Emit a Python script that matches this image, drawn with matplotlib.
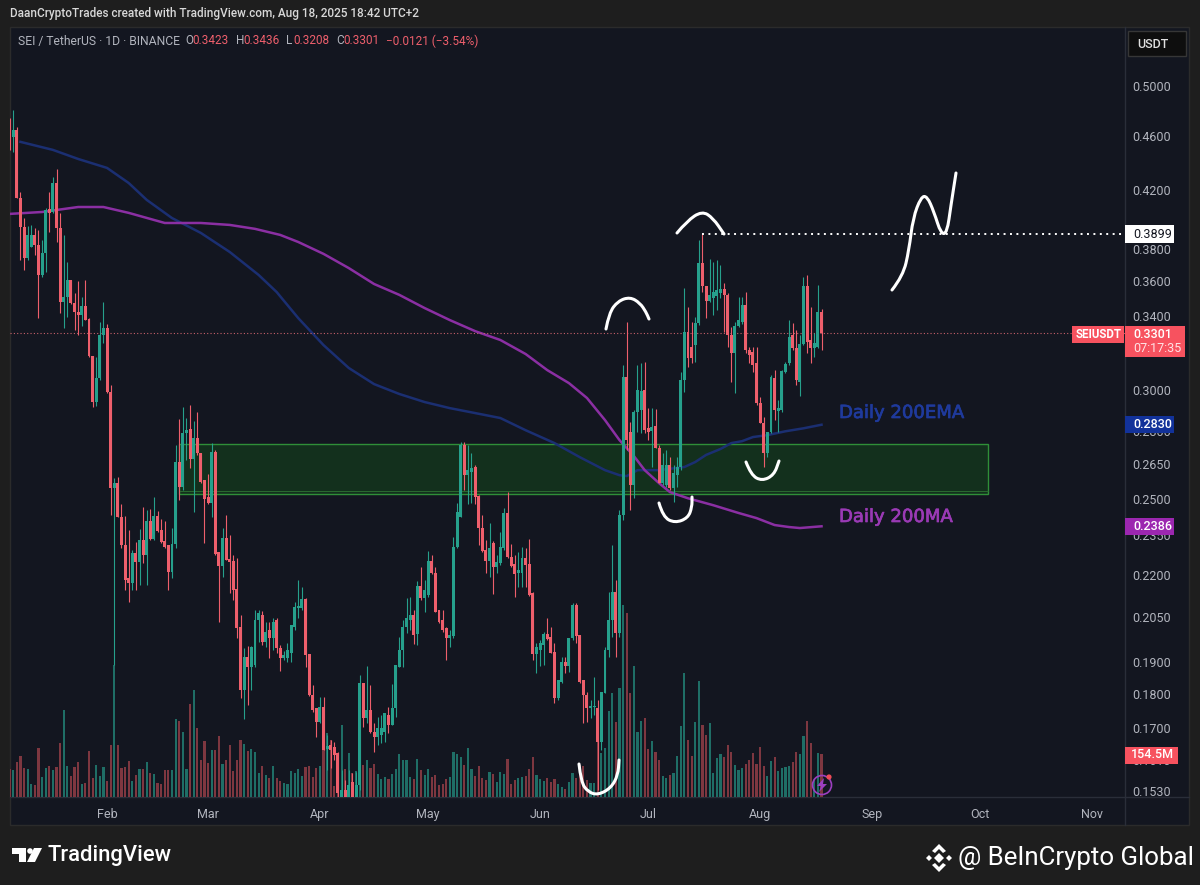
"""SEI/USDT daily candles with 200 MA / 200 EMA, TradingView dark look."""
import matplotlib

matplotlib.use("Agg")
import matplotlib.dates as mdates
import matplotlib.patheffects as pe
import matplotlib.pyplot as plt
import numpy as np
import pandas as pd
from matplotlib.patches import Circle, PathPatch, Polygon, Rectangle
from matplotlib.path import Path
from matplotlib.ticker import FixedFormatter, FixedLocator, NullLocator

plt.rcParams["font.family"] = ["Roboto", "DejaVu Sans"]

START = "2025-01-05"

opens = [
    .4723, .4590, .4644, .4143, .3946, .3745, .3815, .3893, .3828, .3640,
    .3777, .4067, .4046, .4249, .3939, .3478, .3508, .3609, .3472, .3420,
    .3403, .3455, .3380, .3176, .2940, .3060, .3290, .3329, .2990, .2544,
    .2565, .2423, .2311, .2187, .2169, .2281, .2247, .2331, .2273, .2407,
    .2335, .2427, .2371, .2327, .2311, .2210, .2315, .2658, .2548, .2790,
    .2809, .2672, .2767, .2698, .2578, .2505, .2481, .2703, .2285, .2232,
    .2339, .2258, .2250, .2146, .2014, .1812, .1916, .1884, .1890, .2038,
    .2055, .1964, .2004, .1978, .2038, .1945, .1912, .1912, .1928, .2014,
    .2080, .2080, .2111, .1925, .1797, .1758, .1717, .1761, .1641, .1652,
    .1646, .1630, .1493, .1532, .1493, .1553, .1506, .1545, .1834, .1729,
    .1752, .1688, .1674, .1680, .1688, .1738, .1708, .1758, .1884, .1938,
    .2014, .2038, .2055, .1991, .2158, .2115, .2125, .2250, .2206, .2073,
    .2038, .2011, .1978, .1984, .2304, .2423, .2735, .2600, .2613, .2636,
    .2510, .2379, .2292, .2250, .2319, .2228, .2243, .2300, .2440, .2266,
    .2239, .2206, .2206, .2262, .2239, .2132, .1925, .1938, .1954, .1991,
    .1981, .1932, .1788, .1837, .1900, .1887, .1978, .2090, .1987, .1843,
    .1797, .1758, .1761, .1758, .1660, .1803, .1938, .2038, .2136, .1994,
    .2431, .3065, .2795, .2556, .2890, .2900, .3000, .2813, .2799, .2823,
    .2721, .2565, .2556, .2645, .2544, .2600, .2636, .3050, .3307, .3224,
    .3235, .3357, .3714, .3573, .3484, .3502, .3514, .3531, .3555, .3519,
    .3290, .3192, .3340, .3363, .3461, .3208, .3197, .3139, .2935, .2838,
    .2698, .2795, .3060, .2895, .2900, .3092, .3139, .3290, .3219, .3040,
    .3241, .3573, .3263, .3219, .3224, .3423,
]
highs = [
    .4739, .4803, .4668, .4185, .4005, .3952, .3959, .3939, .3926, .3860,
    .4074, .4185, .4292, .4349, .4040, .3893, .3720, .3609, .3531, .3603,
    .3508, .3609, .3385, .3176, .3171, .3363, .3478, .3351, .3025, .2587,
    .2591, .2477, .2427, .2371, .2292, .2323, .2375, .2464, .2452, .2456,
    .2505, .2448, .2415, .2407, .2311, .2379, .2735, .2857, .2915, .2862,
    .2925, .2847, .2890, .2698, .2578, .2604, .2744, .2712, .2285, .2379,
    .2431, .2351, .2273, .2262, .2055, .1945, .1951, .1951, .2073, .2073,
    .2069, .2031, .2031, .2045, .2045, .1954, .1935, .1961, .2021, .2101,
    .2180, .2154, .2115, .1925, .1827, .1758, .1791, .1791, .1680, .1666,
    .1660, .1632, .1584, .1558, .1584, .1576, .1579, .1858, .1834, .1887,
    .1827, .1714, .1732, .1738, .1743, .1761, .1830, .1890, .1981, .2038,
    .2115, .2118, .2073, .2176, .2228, .2180, .2289, .2273, .2228, .2073,
    .2073, .2014, .2004, .2343, .2481, .2749, .2749, .2735, .2698, .2645,
    .2514, .2431, .2331, .2399, .2327, .2273, .2363, .2460, .2527, .2315,
    .2273, .2285, .2304, .2300, .2335, .2136, .1961, .1971, .1997, .2045,
    .2014, .1961, .1843, .1916, .1916, .1978, .2097, .2097, .1987, .1843,
    .1806, .1782, .1852, .1782, .1806, .1948, .2136, .2311, .2180, .2452,
    .3128, .3363, .2842, .2900, .3128, .3139, .3144, .2910, .2910, .2905,
    .2735, .2698, .2712, .2680, .2645, .2680, .3092, .3561, .3449, .3363,
    .3391, .3860, .3899, .3573, .3739, .3720, .3733, .3702, .3591, .3531,
    .3335, .3363, .3508, .3508, .3537, .3224, .3224, .3224, .2965, .2866,
    .2795, .3076, .3102, .2950, .3102, .3144, .3374, .3357, .3318, .3290,
    .3627, .3640, .3449, .3301, .3579, .3436,
]
lows = [
    .4491, .4476, .4143, .3733, .3670, .3733, .3815, .3764, .3385, .3627,
    .3658, .3913, .4040, .3847, .3414, .3329, .3391, .3466, .3318, .3290,
    .3340, .3374, .3171, .2915, .2920, .3050, .3247, .2985, .2431, .1890,
    .2423, .2300, .2143, .2101, .2143, .2143, .2162, .2243, .2162, .2331,
    .2331, .2363, .2319, .2300, .2143, .2187, .2300, .2493, .2535, .2667,
    .2631, .2444, .2689, .2565, .2319, .2477, .2423, .2273, .2031, .2191,
    .2254, .2132, .2108, .1978, .1788, .1726, .1767, .1812, .1884, .1964,
    .1954, .1948, .1912, .1938, .1928, .1871, .1906, .1900, .1900, .2004,
    .2045, .2073, .1884, .1794, .1746, .1674, .1714, .1638, .1584, .1589,
    .1611, .1512, .1408, .1468, .1481, .1506, .1493, .1532, .1703, .1714,
    .1686, .1632, .1652, .1658, .1660, .1686, .1708, .1732, .1884, .1884,
    .1994, .2004, .1958, .1954, .2108, .2066, .2118, .2202, .2066, .2028,
    .1997, .1906, .1948, .1978, .2300, .2423, .2535, .2477, .2481, .2477,
    .2311, .2285, .2206, .2191, .2129, .2206, .2236, .2292, .2262, .2228,
    .2118, .2154, .2154, .2154, .2122, .1906, .1865, .1887, .1890, .1971,
    .1928, .1773, .1782, .1834, .1865, .1868, .1971, .1961, .1834, .1714,
    .1717, .1729, .1738, .1532, .1638, .1803, .1916, .1981, .1916, .1981,
    .2411, .2712, .2452, .2501, .2795, .2790, .2790, .2758, .2636, .2721,
    .2565, .2556, .2548, .2535, .2485, .2548, .2622, .2990, .3118, .3139,
    .3144, .3346, .3537, .3385, .3478, .3403, .3431, .3502, .3307, .3224,
    .3040, .2985, .3335, .3351, .3192, .3139, .3092, .2925, .2838, .2636,
    .2680, .2790, .2852, .2795, .2890, .3087, .3128, .3208, .3025, .2970,
    .3235, .3192, .3139, .3171, .3219, .3208,
]
closes = [
    .4590, .4644, .4143, .3946, .3745, .3893, .3893, .3828, .3640, .3777,
    .4060, .4040, .4249, .3939, .3478, .3508, .3609, .3472, .3420, .3403,
    .3455, .3374, .3176, .2940, .3060, .3290, .3329, .2990, .2544, .2565,
    .2423, .2311, .2180, .2169, .2281, .2247, .2331, .2273, .2407, .2335,
    .2427, .2367, .2323, .2304, .2210, .2315, .2658, .2548, .2790, .2804,
    .2672, .2767, .2698, .2569, .2497, .2481, .2703, .2277, .2232, .2339,
    .2254, .2247, .2143, .2011, .1812, .1916, .1884, .1948, .2038, .2062,
    .1964, .1997, .1978, .2031, .1945, .1912, .1922, .1938, .2021, .2083,
    .2087, .2111, .1922, .1797, .1752, .1717, .1761, .1638, .1649, .1638,
    .1624, .1524, .1532, .1493, .1545, .1514, .1545, .1834, .1729, .1752,
    .1688, .1674, .1700, .1700, .1743, .1708, .1758, .1890, .1938, .2014,
    .2045, .2055, .1987, .2158, .2115, .2143, .2250, .2206, .2066, .2031,
    .2004, .1978, .1987, .2304, .2444, .2735, .2600, .2622, .2631, .2505,
    .2379, .2289, .2250, .2300, .2228, .2247, .2304, .2440, .2266, .2232,
    .2202, .2217, .2262, .2236, .2125, .1925, .1948, .1961, .1991, .1974,
    .1928, .1788, .1843, .1900, .1887, .1978, .2090, .1984, .1837, .1797,
    .1758, .1764, .1764, .1660, .1806, .1938, .2038, .2136, .1994, .2431,
    .3065, .2758, .2556, .2890, .3000, .2995, .2804, .2795, .2818, .2721,
    .2565, .2645, .2645, .2544, .2609, .2636, .3050, .3307, .3165, .3165,
    .3357, .3714, .3573, .3484, .3519, .3537, .3549, .3555, .3519, .3290,
    .3192, .3340, .3374, .3461, .3208, .3181, .3128, .2935, .2838, .2698,
    .2795, .3065, .2900, .2910, .3097, .3134, .3279, .3219, .3050, .3241,
    .3573, .3252, .3219, .3246, .3420, .3301,
]
# volume in millions of coins
volumes = [
    100, 98, 126, 149, 104, 101, 48, 44, 176, 72,
    106, 110, 98, 108, 194, 312, 110, 77, 108, 126,
    48, 50, 164, 68, 115, 77, 107, 56, 186, 475,
    188, 104, 107, 128, 56, 79, 101, 101, 125, 86,
    84, 50, 48, 98, 98, 98, 282, 272, 233, 101,
    335, 385, 248, 132, 200, 122, 168, 168, 221, 120,
    134, 188, 92, 134, 204, 192, 167, 174, 161, 86,
    110, 80, 68, 110, 68, 56, 50, 48, 92, 86,
    101, 77, 108, 113, 72, 106, 110, 170, 230, 206,
    41, 158, 258, 101, 158, 86, 92, 180, 116, 132,
    104, 120, 84, 66, 72, 66, 84, 102, 156, 134,
    134, 72, 66, 138, 96, 78, 102, 72, 78, 42,
    48, 66, 72, 162, 156, 144, 114, 176, 102, 76,
    112, 68, 60, 90, 84, 54, 90, 84, 136, 48,
    60, 68, 72, 76, 102, 144, 78, 66, 56, 68,
    54, 66, 48, 36, 30, 54, 86, 68, 116, 110,
    62, 50, 50, 206, 158, 176, 308, 374, 269, 392,
    692, 662, 374, 470, 233, 272, 284, 173, 203, 161,
    134, 77, 68, 80, 86, 146, 257, 446, 204, 146,
    269, 419, 260, 224, 266, 86, 140, 156, 144, 186,
    161, 116, 98, 104, 120, 134, 158, 120, 180, 110,
    77, 128, 144, 95, 104, 107, 110, 125, 163, 156,
    221, 274, 194, 60, 158, 154.5,
]

# moving averages, read every week or so (days since START)
ema_days = [3, 12, 19, 27, 33, 38, 45, 53, 61, 69, 74, 80, 87, 94, 101, 108, 115,
            122, 129, 136, 143, 151, 158, 165, 169, 171, 174, 180, 187, 190, 193,
            197, 200, 203, 206, 210, 215, 220, 225]
ema_vals = [.4552, .4491, .4423, .4357, .4248, .4129, .4005, .3906, .3783, .3640,
            .3537, .3385, .3235, .3113, .3030, .2980, .2940, .2910, .2886, .2862,
            .2804, .2744, .2680, .2622, .2600, .2596, .2622, .2622, .2636, .2658,
            .2690, .2717, .2744, .2753, .2772, .2781, .2799, .2813, .2830]
ma_days = [0, 9, 19, 26, 33, 43, 53, 61, 68, 75, 80, 87, 94, 101, 108, 115, 122,
           129, 136, 143, 149, 155, 160, 165, 169, 173, 176, 180, 183, 188, 195,
           202, 207, 212, 216, 219, 225]
ma_vals = [.4033, .4046, .4080, .4080, .4040, .3972, .3972, .3959, .3933, .3893,
           .3847, .3771, .3682, .3585, .3520, .3443, .3374, .3312, .3263, .3187,
           .3102, .3035, .2960, .2852, .2758, .2685, .2622, .2565, .2527, .2501,
           .2472, .2440, .2419, .2391, .2383, .2379, .2386]

price_ticks = [.5, .46, .42, .38, .36, .34, .30, .28, .265, .25, .235, .22, .205,
               .19, .18, .17, .161, .153]
zone_days = (47, 271)
zone_prices = (.2518, .2740)
last_close = .3301
resistance = .3899
ema_last = .2830
ma_last = .2386
vol_last = 154.5

# hand-drawn marks on the original screenshot, in image pixels
strokes = [
    [(606, 329), (609, 313), (618, 301), (630, 297), (640, 303), (646, 312), (649, 319)],
    [(677, 233), (687, 221), (702, 211), (713, 218), (724, 234)],
    [(659, 503), (663, 517), (675, 523), (688, 518), (692, 507), (692, 497)],
    [(746, 462), (751, 475), (762, 481), (774, 475), (779, 461)],
    [(579, 764), (581, 782), (588, 792), (598, 795), (611, 788), (618, 775), (619, 760)],
    [(892, 290), (903, 276), (909, 250), (913, 218), (921, 197), (927, 196), (934, 212),
     (941, 234), (947, 233), (951, 205), (956, 173)],
]

OUTER = "#1e1e1e"
PANEL = "#131620"
GRID = "#2a2e39"
UP = "#26a08c"
DOWN = "#ee5f6c"
VOL_UP = "#1f6e66"
VOL_DOWN = "#7e3740"
TEXT = "#b2b5be"

W, H = 1200, 885
fig = plt.figure(figsize=(W / 100, H / 100), dpi=100, facecolor=OUTER)


def px_axes(left, top, right, bottom, **kw):
    return fig.add_axes([left / W, 1 - bottom / H, (right - left) / W, (bottom - top) / H], **kw)


bg = px_axes(0, 0, W, H, zorder=0)
bg.set_xlim(0, W)
bg.set_ylim(H, 0)
bg.axis("off")
bg.add_patch(Rectangle((10, 27), 1179, 798, fc=PANEL, ec="#2b2b2b", lw=1))
bg.plot([10, 1189], [797, 797], color=GRID, lw=1)
bg.plot([1125, 1125], [27, 825], color=GRID, lw=1)

dates = pd.date_range(START, periods=len(closes))
x = mdates.date2num(dates)
d0 = x[0]
xlim = (d0 + 0.11, d0 + 309.1)

# volume underneath
axv = px_axes(10, 27, 1125, 797, zorder=1)
axv.patch.set_visible(False)
vol_colors = [VOL_UP if c >= o else VOL_DOWN for o, c in zip(opens, closes)]
axv.bar(x, volumes, width=0.6, color=vol_colors, linewidth=0)
axv.set_xlim(*xlim)
axv.set_ylim(0, 770 * 3.6)
axv.axis("off")

# price
ax = px_axes(10, 27, 1125, 797, zorder=2)
ax.patch.set_visible(False)
ax.set_yscale("log")
ax.set_xlim(*xlim)
ax.set_ylim(.1514, .5521)

ax.add_patch(Rectangle((d0 + zone_days[0], zone_prices[0]), zone_days[1] - zone_days[0],
                       zone_prices[1] - zone_prices[0], fc="#13301d", ec="#2f8f38", lw=1, zorder=1))
ax.hlines(.2533, d0 + zone_days[0], d0 + zone_days[1], color="#2a6b30", lw=0.7, zorder=1)

ax.plot(d0 + np.array(ema_days), ema_vals, color="#1b2f72", lw=1.8, zorder=2)
ax.plot(d0 + np.array(ma_days), ma_vals, color="#8b2fa3", lw=1.8, zorder=2)
ax.axhline(last_close, color="#c8616b", lw=0.8, ls=(0, (1, 2)), zorder=2)

colors = [UP if c >= o else DOWN for o, c in zip(opens, closes)]
ax.vlines(x, lows, highs, colors=colors, lw=0.8, zorder=3)
bottoms = np.minimum(opens, closes)
tops = np.maximum(opens, closes)
ax.bar(x, tops - bottoms, bottom=bottoms, width=0.82, color=colors, linewidth=0, zorder=4)

ax.hlines(resistance, d0 + 192, xlim[1], color="white", lw=1.4, ls=(0, (1, 2.3)), zorder=5)

ax.xaxis.set_major_locator(mdates.MonthLocator())
ax.xaxis.set_major_formatter(mdates.DateFormatter("%b"))
ax.yaxis.tick_right()
ax.yaxis.set_major_locator(FixedLocator(price_ticks))
ax.yaxis.set_major_formatter(FixedFormatter([f"{p:.4f}" for p in price_ticks]))
ax.yaxis.set_minor_locator(NullLocator())
ax.tick_params(axis="x", length=0, pad=8, labelsize=9, labelcolor=TEXT)
ax.tick_params(axis="y", length=0, pad=5, labelsize=9, labelcolor=TEXT)
for side in ax.spines.values():
    side.set_visible(False)

# everything on top: labels, marks, logos
top = px_axes(0, 0, W, H, zorder=5)
top.set_xlim(0, W)
top.set_ylim(H, 0)
top.axis("off")


def price_y(price):
    return H - ax.transData.transform((d0, price))[1]


def tag(left, right, yc, height, color, label, tc="white", tx=None, weight="medium", size=9):
    top.add_patch(Rectangle((left, yc - height / 2), right - left, height, fc=color, ec="none"))
    top.text(left + 8 if tx is None else tx, yc, label, color=tc, fontsize=size, va="center",
             ha="left", fontweight=weight)


def smooth_stroke(points):
    # quadratic curve through the midpoints, so the marks look hand-drawn
    verts, codes = [points[0]], [Path.MOVETO]
    for i in range(1, len(points) - 1):
        mid = ((points[i][0] + points[i + 1][0]) / 2, (points[i][1] + points[i + 1][1]) / 2)
        verts += [points[i], mid]
        codes += [Path.CURVE3, Path.CURVE3]
    verts.append(points[-1])
    codes.append(Path.LINETO)
    return PathPatch(Path(verts, codes), fc="none", ec="white", lw=2.2, capstyle="round", joinstyle="round")


tag(1125, 1174, price_y(resistance), 18, "white", "0.3899", tc="#131620", weight="normal")
tag(1125, 1174, price_y(ema_last), 17, "#12329a", "0.2830")
tag(1125, 1174, price_y(ma_last), 17, "#9c27b0", "0.2386")
tag(1125, 1178, 755, 17, "#f7525f", f"{vol_last}M", tx=1131)
tag(1072, 1124, price_y(last_close) + 1, 17, "#f7525f", "SEIUSDT", tx=1076, weight="bold", size=8.3)
yc = price_y(last_close)
top.add_patch(Rectangle((1125, yc - 7), 60, 31, fc="#f7525f", ec="none"))
top.text(1133, yc + 1, "0.3301", color="white", fontsize=9, va="center", fontweight="medium")
top.text(1133, yc + 15, "07:17:35", color="#ffe3e5", fontsize=9, va="center")

top.add_patch(Rectangle((1128, 31), 58, 25, fc="#0e0e0e", ec="#363636", lw=1))
top.text(1137, 44, "USDT", color="#e0e0e0", fontsize=9, va="center", fontweight="medium")

top.text(10, 14, "DaanCryptoTrades created with TradingView.com, Aug 18, 2025 18:42 UTC+2",
         color="#d8d8d8", fontsize=8.5, va="center", fontweight="medium")
top.text(18, 41, "SEI / TetherUS · 1D · BINANCE", color=TEXT, fontsize=8.7, va="center")
legend_parts = [(185, "O", TEXT), (192, "0.3423", DOWN), (236, "H", TEXT), (243, "0.3436", DOWN),
                (286, "L", TEXT), (293, "0.3208", DOWN), (336, "C", TEXT), (343, "0.3301", DOWN),
                (386, "−0.0121 (−3.54%)", DOWN)]
for px, part, col in legend_parts:
    top.text(px, 41, part, color=col, fontsize=8.5, va="center")

for label, yy, col in [("Daily 200EMA", 413, "#1f3a9c"), ("Daily 200MA", 517, "#9a3ab5")]:
    top.text(839, yy, label, color=col, fontsize=13, va="center", family="DejaVu Sans",
             path_effects=[pe.withStroke(linewidth=0.5, foreground=col)])

for stroke in strokes:
    top.add_patch(smooth_stroke(stroke))

# lightning badge next to the last bar
top.add_patch(Circle((822, 785), 9.5, fc="none", ec="#9c3fc0", lw=1.2))
top.add_patch(Circle((829, 777), 2.6, fc="#ee4b55", ec="none"))
top.add_patch(Polygon([(824, 778), (817, 786), (821, 786), (819, 792), (827, 784), (823, 784)],
                      fc="#9c3fc0", ec="none"))

# TradingView logo
top.add_patch(Polygon([(12, 848), (26, 848), (26, 862), (19, 862), (19, 854), (12, 854)], fc="white", ec="none"))
top.add_patch(Circle((30, 851), 2.8, fc="white", ec="none"))
top.add_patch(Polygon([(34, 848), (42, 848), (35, 862), (27, 862)], fc="white", ec="none"))
top.text(48, 855, "TradingView", color="white", fontsize=15.8, va="center", fontweight="medium")

# BeInCrypto mark
cx, cy = 939, 858
top.add_patch(Polygon([(cx, cy - 5), (cx + 5, cy), (cx, cy + 5), (cx - 5, cy)], fc="white", ec="none"))
for dx in (-10, 10):
    top.add_patch(Polygon([(cx + dx, cy - 3), (cx + dx + 3, cy), (cx + dx, cy + 3), (cx + dx - 3, cy)],
                          fc="white", ec="none"))
for sign in (-1, 1):
    top.add_patch(Polygon([(cx - 7, cy + sign * 7), (cx, cy + sign * 14), (cx + 7, cy + sign * 7),
                           (cx + 4, cy + sign * 5), (cx, cy + sign * 9), (cx - 4, cy + sign * 5)],
                          fc="white", ec="none"))
top.text(958, 858, "@ BeInCrypto Global", color="white", fontsize=18.6, va="center")

fig.savefig("out.png", dpi=100, facecolor=OUTER)
